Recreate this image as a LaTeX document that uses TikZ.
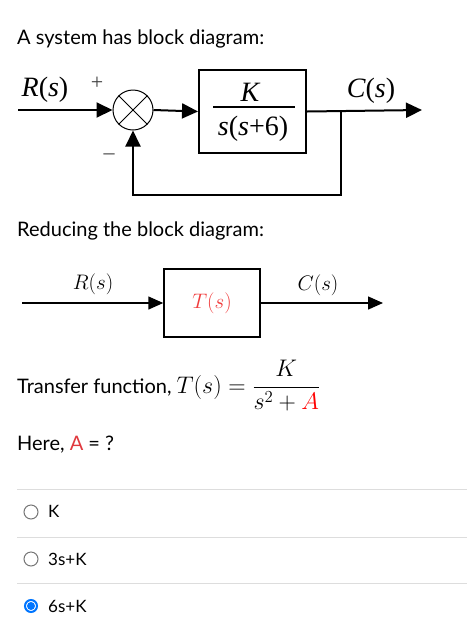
\RequirePackage{fix-cm}
\documentclass[tikz,border=0pt]{standalone}
\usepackage{fontspec}
\setmainfont{Lato}
\newfontfamily\tms{Liberation Serif}
\usetikzlibrary{arrows.meta}
\definecolor{tred}{RGB}{240,60,60}
\definecolor{hred}{RGB}{224,57,62}
\definecolor{rblue}{RGB}{0,117,255}
\definecolor{sepgray}{RGB}{221,221,221}
\definecolor{radgray}{RGB}{118,118,118}
\begin{document}
\begin{tikzpicture}[x=1pt,y=-1pt,
  txt/.style={font=\fontsize{20}{24}\selectfont, anchor=base west, inner sep=0pt},
  opt/.style={font=\fontsize{17}{20}\selectfont, anchor=base west, inner sep=0pt},
  tmsl/.style={font=\tms\fontsize{28}{32}\selectfont, inner sep=0pt},
  mth/.style={font=\fontsize{21}{25}\selectfont, inner sep=0pt},
  sgn/.style={font=\tms\fontsize{22}{24}\selectfont, text=black!75, inner sep=0pt},
  arrA/.style={-{Triangle[length=16pt,width=15pt]}, line width=2pt},
  arrB/.style={-{Triangle[length=15pt,width=13pt]}, line width=1.5pt},
  sepline/.style={draw=sepgray, line width=1pt},
  radio/.style={circle, draw=radgray, line width=1pt, minimum size=14pt, inner sep=0pt}]
\useasboundingbox (0,0) rectangle (467,641);

% heading
\node[txt] (h1) at (17,44) {A system has block diagram:};

% diagram 1
\coordinate (in1) at (18,110);
\node[circle, draw, line width=1pt, minimum size=40pt, inner sep=0pt] (sum) at (133,110) {};
\draw[line width=0.8pt] (sum.north west) -- (sum.south east);
\draw[line width=0.8pt] (sum.north east) -- (sum.south west);
\node[draw, line width=2pt, minimum width=107pt, minimum height=83pt, inner sep=0pt] (G) at (252.5,111.5) {};
\node[tmsl] (Gn) at (250,92) {\itshape K};
\draw[line width=1.5pt] (213,107) coordinate (fl) -- (295,107) coordinate (fr);
\node[tmsl] (Gd) at (253,129) {{\itshape s}({\itshape s}+6)};
\coordinate (br) at (341,110);
\coordinate (fb) at (341,195);
\coordinate (out1) at (422,110);
\draw[arrA] (in1) -- (sum.west);
\draw[arrA] (sum.east) -- (G.west);
\draw[arrA] (G.east) -- (out1);
\draw[arrA] (br) -- (fb) -| (sum.south);
\node[tmsl] (Rs1) at (45,90) {{\itshape R}({\itshape s})};
\node[tmsl] (Cs1) at (371,91) {{\itshape C}({\itshape s})};
\node[sgn] (plus) at (97,83) {+};
\node[sgn] (minus) at (109,157) {\textendash};

% heading 2
\node[txt] (h2) at (17,236) {Reducing the block diagram:};

% diagram 2
\coordinate (in2) at (22,303);
\coordinate (out2) at (383,303);
\node[draw, line width=1.5pt, minimum width=96pt, minimum height=68pt, inner sep=0pt, mth] (T) at (212,303) {\color{tred}$T(s)$};
\draw[arrB] (in2) -- (T.west);
\draw[arrB] (T.east) -- (out2);
\node[mth] (Rs2) at (93,284) {$R(s)$};
\node[mth] (Cs2) at (318,285) {$C(s)$};

% transfer function
\node[txt] (tf) at (17,393) {Transfer function, {\fontsize{24}{28}\selectfont$\displaystyle T(s)=\frac{K}{s^2+\textcolor{red}{A}}$}};
\node[txt] (here) at (17,450) {Here, \textcolor{hred}{A} = ?};

% options
\draw[sepline] (17,489) coordinate (s1a) -- (467,489) coordinate (s1b);
\draw[sepline] (17,537) coordinate (s2a) -- (467,537) coordinate (s2b);
\draw[sepline] (17,583) coordinate (s3a) -- (467,583) coordinate (s3b);
\node[radio] (r1) at (31,512) {};
\node[radio] (r2) at (31,559) {};
\node[circle, draw=rblue, line width=2pt, fill=white, minimum size=12pt, inner sep=0pt] (r3) at (31,606) {};
\fill[rblue] (r3.center) circle (4pt);
\node[opt] (o1) at (48,517) {K};
\node[opt] (o2) at (48,565) {3s+K};
\node[opt] (o3) at (48,612) {6s+K};
\end{tikzpicture}
\end{document}
